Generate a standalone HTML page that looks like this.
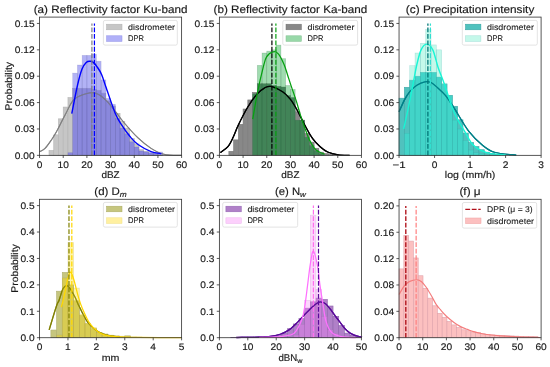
<!DOCTYPE html>
<html><head><meta charset="utf-8"><style>
html,body{margin:0;padding:0;background:#fff;}
svg{display:block;font-family:"Liberation Sans",sans-serif;will-change:transform;}
</style></head><body>
<svg width="550" height="367" viewBox="0 0 550 367" text-rendering="geometricPrecision">
<rect width="550" height="367" fill="#fff"/>
<g style="opacity:0.999">
<g fill="#c6c6c6" stroke="#b4b4b4" stroke-opacity="1" stroke-width="0.6"><rect x="49.02" y="150.51" width="4.73" height="4.84"/><rect x="53.75" y="134.86" width="4.73" height="20.49"/><rect x="58.49" y="118.86" width="4.73" height="36.49"/><rect x="63.22" y="107.07" width="4.74" height="48.28"/><rect x="67.96" y="97.67" width="4.73" height="57.68"/><rect x="72.69" y="88.26" width="4.74" height="67.09"/><rect x="77.43" y="88.26" width="4.73" height="67.09"/><rect x="82.16" y="88.26" width="4.74" height="67.09"/><rect x="86.90" y="88.26" width="4.73" height="67.09"/><rect x="91.63" y="89.40" width="4.74" height="65.95"/><rect x="96.37" y="90.28" width="4.73" height="65.07"/><rect x="101.11" y="93.18" width="4.73" height="62.17"/><rect x="105.84" y="100.83" width="4.73" height="54.52"/><rect x="110.58" y="106.11" width="4.73" height="49.24"/><rect x="115.31" y="113.32" width="4.73" height="42.03"/><rect x="120.05" y="121.41" width="4.73" height="33.94"/><rect x="124.78" y="128.09" width="4.73" height="27.26"/><rect x="129.51" y="138.64" width="4.74" height="16.71"/><rect x="134.25" y="143.92" width="4.74" height="11.43"/><rect x="138.99" y="149.72" width="4.73" height="5.63"/><rect x="143.72" y="151.57" width="4.74" height="3.78"/><rect x="148.46" y="152.98" width="4.73" height="2.37"/><rect x="153.19" y="153.15" width="4.74" height="2.20"/><rect x="157.93" y="154.47" width="4.74" height="0.88"/></g>
<path d="M39.55,151.83 C40.46,151.26 43.02,150.38 45.00,148.40 C46.97,146.42 49.45,142.76 51.39,139.96 C53.32,137.16 54.23,135.93 56.60,131.61 C58.96,127.28 62.63,119.44 65.59,114.02 C68.55,108.60 70.45,102.59 74.35,99.07 C78.26,95.56 85.16,93.77 89.03,92.92 C92.90,92.07 94.63,92.65 97.55,93.97 C100.47,95.29 103.59,97.93 106.55,100.83 C109.51,103.73 112.35,107.69 115.31,111.38 C118.27,115.08 120.52,118.56 124.31,122.99 C128.09,127.42 133.58,133.70 138.04,137.94 C142.50,142.17 146.76,145.69 151.06,148.40 C155.36,151.11 158.75,153.05 163.84,154.21 C168.93,155.36 178.64,155.16 181.60,155.35" fill="none" stroke="#808080" stroke-width="1.05" stroke-linejoin="round"/>
<g fill="#5955ee" fill-opacity="0.55"><rect x="67.96" y="152.71" width="4.73" height="2.64"/><rect x="72.69" y="88.26" width="4.74" height="67.09"/><rect x="77.43" y="88.26" width="4.73" height="67.09"/><rect x="82.16" y="88.26" width="4.74" height="67.09"/><rect x="86.90" y="88.26" width="4.73" height="67.09"/><rect x="91.63" y="89.40" width="4.74" height="65.95"/><rect x="96.37" y="90.28" width="4.73" height="65.07"/><rect x="101.11" y="93.18" width="4.73" height="62.17"/><rect x="105.84" y="100.83" width="4.73" height="54.52"/><rect x="110.58" y="106.11" width="4.73" height="49.24"/><rect x="115.31" y="118.42" width="4.73" height="36.93"/><rect x="120.05" y="128.09" width="4.73" height="27.26"/><rect x="124.78" y="133.81" width="4.73" height="21.54"/><rect x="129.51" y="141.81" width="4.74" height="13.54"/><rect x="134.25" y="147.00" width="4.74" height="8.35"/><rect x="138.99" y="150.95" width="4.73" height="4.40"/><rect x="143.72" y="151.83" width="4.74" height="3.52"/><rect x="148.46" y="152.98" width="4.73" height="2.37"/><rect x="153.19" y="153.15" width="4.74" height="2.20"/><rect x="157.93" y="154.47" width="4.74" height="0.88"/></g>
<g fill="#7373ed" fill-opacity="0.55"><rect x="72.69" y="73.13" width="4.74" height="15.12"/><rect x="77.43" y="65.04" width="4.73" height="23.21"/><rect x="82.16" y="55.37" width="4.74" height="32.89"/><rect x="86.90" y="55.37" width="4.73" height="32.89"/><rect x="91.63" y="54.23" width="4.74" height="35.17"/><rect x="96.37" y="61.26" width="4.73" height="29.02"/><rect x="101.11" y="79.90" width="4.73" height="13.28"/><rect x="105.84" y="98.46" width="4.73" height="2.37"/><rect x="110.58" y="104.35" width="4.73" height="1.76"/><rect x="148.46" y="152.71" width="4.73" height="0.26"/><rect x="153.19" y="152.71" width="4.74" height="0.44"/><rect x="157.93" y="152.01" width="4.74" height="2.46"/></g>
<g fill="none" stroke="#5050a0" stroke-opacity="0.25" stroke-width="0.6"><rect x="67.96" y="152.71" width="4.73" height="2.64"/><rect x="72.69" y="73.13" width="4.74" height="82.22"/><rect x="77.43" y="65.04" width="4.73" height="90.31"/><rect x="82.16" y="55.37" width="4.74" height="99.98"/><rect x="86.90" y="55.37" width="4.73" height="99.98"/><rect x="91.63" y="54.23" width="4.74" height="101.12"/><rect x="96.37" y="61.26" width="4.73" height="94.09"/><rect x="101.11" y="79.90" width="4.73" height="75.45"/><rect x="105.84" y="98.46" width="4.73" height="56.89"/><rect x="110.58" y="104.35" width="4.73" height="51.00"/><rect x="115.31" y="118.42" width="4.73" height="36.93"/><rect x="120.05" y="128.09" width="4.73" height="27.26"/><rect x="124.78" y="133.81" width="4.73" height="21.54"/><rect x="129.51" y="141.81" width="4.74" height="13.54"/><rect x="134.25" y="147.00" width="4.74" height="8.35"/><rect x="138.99" y="150.95" width="4.73" height="4.40"/><rect x="143.72" y="151.83" width="4.74" height="3.52"/><rect x="148.46" y="152.71" width="4.73" height="2.64"/><rect x="153.19" y="152.71" width="4.74" height="2.64"/><rect x="157.93" y="152.01" width="4.74" height="3.34"/></g>
<path d="M39.55,151.83 C40.46,151.26 43.02,150.38 45.00,148.40 C46.97,146.42 49.45,142.76 51.39,139.96 C53.32,137.16 54.23,135.93 56.60,131.61 C58.96,127.28 62.63,119.44 65.59,114.02 C68.55,108.60 70.45,102.59 74.35,99.07 C78.26,95.56 85.16,93.77 89.03,92.92 C92.90,92.07 94.63,92.65 97.55,93.97 C100.47,95.29 103.59,97.93 106.55,100.83 C109.51,103.73 112.35,107.69 115.31,111.38 C118.27,115.08 120.52,118.56 124.31,122.99 C128.09,127.42 133.58,133.70 138.04,137.94 C142.50,142.17 146.76,145.69 151.06,148.40 C155.36,151.11 158.75,153.05 163.84,154.21 C168.93,155.36 178.64,155.16 181.60,155.35" fill="none" stroke="#808080" stroke-opacity="0.8" stroke-width="1.05"/>
<path d="M71.75,113.58 C72.71,108.82 75.85,92.40 77.55,85.00 C79.25,77.60 80.49,72.94 81.93,69.18 C83.37,65.41 84.81,63.72 86.19,62.40 C87.57,61.09 89.03,61.26 90.21,61.26 C91.40,61.26 92.15,61.48 93.29,62.40 C94.44,63.33 95.70,64.79 97.08,66.80 C98.46,68.81 100.12,71.12 101.58,74.45 C103.04,77.78 103.55,80.25 105.84,86.76 C108.13,93.27 112.63,107.07 115.31,113.49 C117.99,119.91 119.41,121.35 121.94,125.28 C124.46,129.20 127.78,133.86 130.46,137.06 C133.15,140.25 134.61,142.03 138.04,144.45 C141.47,146.86 147.19,150.04 151.06,151.57 C154.93,153.09 159.54,153.25 161.24,153.59" fill="none" stroke="#0000ff" stroke-width="1.4" stroke-linejoin="round"/>
<line x1="91.92" y1="155.35" x2="91.92" y2="23.45" stroke="#808080" stroke-width="1.2" stroke-dasharray="4.8 1.68"/>
<line x1="94.43" y1="155.35" x2="94.43" y2="23.45" stroke="#0000ff" stroke-width="1.2" stroke-dasharray="4.8 1.68"/>
<rect x="39.55" y="17.10" width="142.05" height="138.25" fill="none" stroke="#3c3c3c" stroke-width="0.85"/>
<line x1="39.55" y1="155.35" x2="39.55" y2="157.98" stroke="#262626" stroke-width="0.75"/>
<text x="39.55" y="167.80" font-size="9.51" text-anchor="middle" fill="#1a1a1a" stroke="#1a1a1a" stroke-width="0.16" textLength="5.66" lengthAdjust="spacingAndGlyphs">0</text>
<line x1="63.22" y1="155.35" x2="63.22" y2="157.98" stroke="#262626" stroke-width="0.75"/>
<text x="63.22" y="167.80" font-size="9.51" text-anchor="middle" fill="#1a1a1a" stroke="#1a1a1a" stroke-width="0.16" textLength="11.32" lengthAdjust="spacingAndGlyphs">10</text>
<line x1="86.90" y1="155.35" x2="86.90" y2="157.98" stroke="#262626" stroke-width="0.75"/>
<text x="86.90" y="167.80" font-size="9.51" text-anchor="middle" fill="#1a1a1a" stroke="#1a1a1a" stroke-width="0.16" textLength="11.32" lengthAdjust="spacingAndGlyphs">20</text>
<line x1="110.58" y1="155.35" x2="110.58" y2="157.98" stroke="#262626" stroke-width="0.75"/>
<text x="110.58" y="167.80" font-size="9.51" text-anchor="middle" fill="#1a1a1a" stroke="#1a1a1a" stroke-width="0.16" textLength="11.32" lengthAdjust="spacingAndGlyphs">30</text>
<line x1="134.25" y1="155.35" x2="134.25" y2="157.98" stroke="#262626" stroke-width="0.75"/>
<text x="134.25" y="167.80" font-size="9.51" text-anchor="middle" fill="#1a1a1a" stroke="#1a1a1a" stroke-width="0.16" textLength="11.32" lengthAdjust="spacingAndGlyphs">40</text>
<line x1="157.93" y1="155.35" x2="157.93" y2="157.98" stroke="#262626" stroke-width="0.75"/>
<text x="157.93" y="167.80" font-size="9.51" text-anchor="middle" fill="#1a1a1a" stroke="#1a1a1a" stroke-width="0.16" textLength="11.32" lengthAdjust="spacingAndGlyphs">50</text>
<line x1="181.60" y1="155.35" x2="181.60" y2="157.98" stroke="#262626" stroke-width="0.75"/>
<text x="181.60" y="167.80" font-size="9.51" text-anchor="middle" fill="#1a1a1a" stroke="#1a1a1a" stroke-width="0.16" textLength="11.32" lengthAdjust="spacingAndGlyphs">60</text>
<line x1="36.92" y1="155.35" x2="39.55" y2="155.35" stroke="#262626" stroke-width="0.75"/>
<text x="34.59" y="158.59" font-size="9.51" text-anchor="end" fill="#1a1a1a" stroke="#1a1a1a" stroke-width="0.16" textLength="19.82" lengthAdjust="spacingAndGlyphs">0.00</text>
<line x1="36.92" y1="128.97" x2="39.55" y2="128.97" stroke="#262626" stroke-width="0.75"/>
<text x="34.59" y="132.21" font-size="9.51" text-anchor="end" fill="#1a1a1a" stroke="#1a1a1a" stroke-width="0.16" textLength="19.82" lengthAdjust="spacingAndGlyphs">0.03</text>
<line x1="36.92" y1="102.59" x2="39.55" y2="102.59" stroke="#262626" stroke-width="0.75"/>
<text x="34.59" y="105.83" font-size="9.51" text-anchor="end" fill="#1a1a1a" stroke="#1a1a1a" stroke-width="0.16" textLength="19.82" lengthAdjust="spacingAndGlyphs">0.06</text>
<line x1="36.92" y1="76.21" x2="39.55" y2="76.21" stroke="#262626" stroke-width="0.75"/>
<text x="34.59" y="79.45" font-size="9.51" text-anchor="end" fill="#1a1a1a" stroke="#1a1a1a" stroke-width="0.16" textLength="19.82" lengthAdjust="spacingAndGlyphs">0.09</text>
<line x1="36.92" y1="49.83" x2="39.55" y2="49.83" stroke="#262626" stroke-width="0.75"/>
<text x="34.59" y="53.07" font-size="9.51" text-anchor="end" fill="#1a1a1a" stroke="#1a1a1a" stroke-width="0.16" textLength="19.82" lengthAdjust="spacingAndGlyphs">0.12</text>
<line x1="36.92" y1="23.45" x2="39.55" y2="23.45" stroke="#262626" stroke-width="0.75"/>
<text x="34.59" y="26.69" font-size="9.51" text-anchor="end" fill="#1a1a1a" stroke="#1a1a1a" stroke-width="0.16" textLength="19.82" lengthAdjust="spacingAndGlyphs">0.15</text>
<rect x="103.40" y="20.40" width="73.90" height="24.70" rx="1.6" fill="#fff" fill-opacity="0.8" stroke="#d9d9d9" stroke-width="0.75"/>
<rect x="106.60" y="24.20" width="15.4" height="5.6" fill="#c6c6c6" fill-opacity="1" stroke="#b0b0b0" stroke-width="0.5"/>
<text x="128.10" y="29.81" font-size="8.22" text-anchor="start" fill="#1a1a1a" stroke="#1a1a1a" stroke-width="0.10" textLength="46.96" lengthAdjust="spacingAndGlyphs">disdrometer</text>
<rect x="106.60" y="35.80" width="15.4" height="5.6" fill="#b0b0f8" fill-opacity="1" stroke="#9090e8" stroke-width="0.5"/>
<text x="128.10" y="41.41" font-size="8.22" text-anchor="start" fill="#1a1a1a" stroke="#1a1a1a" stroke-width="0.10" textLength="15.92" lengthAdjust="spacingAndGlyphs">DPR</text>
<g fill="#888888" stroke="#7a7a7a" stroke-opacity="1" stroke-width="0.6"><rect x="228.87" y="151.31" width="4.74" height="4.04"/><rect x="233.61" y="139.87" width="4.73" height="15.48"/><rect x="238.34" y="124.31" width="4.74" height="31.04"/><rect x="243.08" y="109.01" width="4.73" height="46.34"/><rect x="247.81" y="99.95" width="4.74" height="55.40"/><rect x="252.55" y="92.39" width="4.74" height="62.96"/><rect x="257.28" y="83.68" width="4.73" height="71.67"/><rect x="262.01" y="83.68" width="4.74" height="71.67"/><rect x="266.75" y="83.68" width="4.74" height="71.67"/><rect x="271.49" y="85.44" width="4.74" height="69.91"/><rect x="276.22" y="86.32" width="4.74" height="69.03"/><rect x="280.96" y="87.03" width="4.74" height="68.32"/><rect x="285.69" y="95.56" width="4.73" height="59.79"/><rect x="290.43" y="97.49" width="4.74" height="57.86"/><rect x="295.16" y="111.74" width="4.74" height="43.61"/><rect x="299.90" y="120.18" width="4.73" height="35.17"/><rect x="304.63" y="133.45" width="4.74" height="21.90"/><rect x="309.37" y="142.16" width="4.74" height="13.19"/><rect x="314.10" y="148.23" width="4.74" height="7.12"/><rect x="318.84" y="152.18" width="4.74" height="3.17"/><rect x="323.57" y="153.59" width="4.74" height="1.76"/><rect x="328.31" y="154.47" width="4.74" height="0.88"/></g>
<path d="M220.35,152.54 C221.61,151.54 225.79,149.09 227.92,146.56 C230.05,144.02 231.40,140.91 233.13,137.32 C234.87,133.73 235.89,130.07 238.34,125.01 C240.79,119.96 244.65,112.19 247.81,106.99 C250.97,101.78 254.52,96.95 257.28,93.80 C260.04,90.65 262.10,89.31 264.38,88.08 C266.67,86.85 267.89,85.75 270.99,86.41 C274.08,87.07 279.74,89.93 282.94,92.04 C286.15,94.15 287.99,96.29 290.24,99.07 C292.48,101.86 293.92,104.28 296.41,108.75 C298.91,113.22 302.49,120.91 305.20,125.89 C307.91,130.88 310.19,135.17 312.68,138.64 C315.17,142.12 317.67,144.50 320.16,146.73 C322.65,148.96 324.65,150.66 327.64,152.01 C330.64,153.36 334.47,154.27 338.13,154.82 C341.79,155.38 347.70,155.26 349.61,155.35" fill="none" stroke="#000000" stroke-width="1.25" stroke-linejoin="round"/>
<g fill="#098131" fill-opacity="0.55"><rect x="252.55" y="93.80" width="4.74" height="61.55"/><rect x="257.28" y="83.68" width="4.73" height="71.67"/><rect x="262.01" y="83.68" width="4.74" height="71.67"/><rect x="266.75" y="83.68" width="4.74" height="71.67"/><rect x="271.49" y="85.44" width="4.74" height="69.91"/><rect x="276.22" y="86.32" width="4.74" height="69.03"/><rect x="280.96" y="87.03" width="4.74" height="68.32"/><rect x="285.69" y="95.56" width="4.73" height="59.79"/><rect x="290.43" y="97.49" width="4.74" height="57.86"/><rect x="295.16" y="120.18" width="4.74" height="35.17"/><rect x="299.90" y="120.18" width="4.73" height="35.17"/><rect x="304.63" y="137.24" width="4.74" height="18.11"/><rect x="309.37" y="145.68" width="4.74" height="9.67"/><rect x="314.10" y="150.69" width="4.74" height="4.66"/><rect x="318.84" y="153.59" width="4.74" height="1.76"/></g>
<g fill="#52bf6f" fill-opacity="0.55"><rect x="257.28" y="65.31" width="4.73" height="18.38"/><rect x="262.01" y="53.00" width="4.74" height="30.69"/><rect x="266.75" y="51.15" width="4.74" height="32.54"/><rect x="271.49" y="49.83" width="4.74" height="35.61"/><rect x="276.22" y="45.08" width="4.74" height="41.24"/><rect x="280.96" y="58.62" width="4.74" height="28.40"/><rect x="285.69" y="85.44" width="4.73" height="10.11"/><rect x="290.43" y="89.40" width="4.74" height="8.09"/></g>
<g fill="none" stroke="#2a6040" stroke-opacity="0.25" stroke-width="0.6"><rect x="252.55" y="93.80" width="4.74" height="61.55"/><rect x="257.28" y="65.31" width="4.73" height="90.04"/><rect x="262.01" y="53.00" width="4.74" height="102.35"/><rect x="266.75" y="51.15" width="4.74" height="104.20"/><rect x="271.49" y="49.83" width="4.74" height="105.52"/><rect x="276.22" y="45.08" width="4.74" height="110.27"/><rect x="280.96" y="58.62" width="4.74" height="96.73"/><rect x="285.69" y="85.44" width="4.73" height="69.91"/><rect x="290.43" y="89.40" width="4.74" height="65.95"/><rect x="295.16" y="120.18" width="4.74" height="35.17"/><rect x="299.90" y="120.18" width="4.73" height="35.17"/><rect x="304.63" y="137.24" width="4.74" height="18.11"/><rect x="309.37" y="145.68" width="4.74" height="9.67"/><rect x="314.10" y="150.69" width="4.74" height="4.66"/><rect x="318.84" y="153.59" width="4.74" height="1.76"/></g>
<path d="M220.35,152.54 C221.61,151.54 225.79,149.09 227.92,146.56 C230.05,144.02 231.40,140.91 233.13,137.32 C234.87,133.73 235.89,130.07 238.34,125.01 C240.79,119.96 244.65,112.19 247.81,106.99 C250.97,101.78 254.52,96.95 257.28,93.80 C260.04,90.65 262.10,89.31 264.38,88.08 C266.67,86.85 267.89,85.75 270.99,86.41 C274.08,87.07 279.74,89.93 282.94,92.04 C286.15,94.15 287.99,96.29 290.24,99.07 C292.48,101.86 293.92,104.28 296.41,108.75 C298.91,113.22 302.49,120.91 305.20,125.89 C307.91,130.88 310.19,135.17 312.68,138.64 C315.17,142.12 317.67,144.50 320.16,146.73 C322.65,148.96 324.65,150.66 327.64,152.01 C330.64,153.36 334.47,154.27 338.13,154.82 C341.79,155.38 347.70,155.26 349.61,155.35" fill="none" stroke="#000000" stroke-opacity="1" stroke-width="1.25"/>
<path d="M252.73,119.21 C253.53,114.74 255.77,101.02 257.52,92.39 C259.26,83.76 261.69,73.34 263.20,67.42 C264.71,61.50 264.92,59.46 266.58,56.86 C268.25,54.27 271.17,52.32 273.17,51.85 C275.16,51.38 276.75,51.96 278.56,54.05 C280.38,56.15 282.59,61.07 284.06,64.43 C285.52,67.78 286.17,70.61 287.35,74.19 C288.53,77.76 289.62,81.35 291.14,85.88 C292.65,90.41 294.88,96.52 296.41,101.36 C297.95,106.20 298.90,110.30 300.37,114.90 C301.83,119.50 303.64,124.72 305.20,128.97 C306.75,133.22 307.95,136.96 309.70,140.40 C311.44,143.85 313.19,147.32 315.69,149.63 C318.18,151.95 323.16,153.52 324.66,154.29" fill="none" stroke="#06a010" stroke-width="1.25" stroke-linejoin="round"/>
<line x1="271.91" y1="155.35" x2="271.91" y2="23.45" stroke="#000000" stroke-width="1.2" stroke-dasharray="4.8 1.68"/>
<line x1="275.89" y1="155.35" x2="275.89" y2="23.45" stroke="#06a010" stroke-width="1.2" stroke-dasharray="4.8 1.68"/>
<rect x="219.40" y="17.10" width="142.05" height="138.25" fill="none" stroke="#3c3c3c" stroke-width="0.85"/>
<line x1="219.40" y1="155.35" x2="219.40" y2="157.98" stroke="#262626" stroke-width="0.75"/>
<text x="219.40" y="167.80" font-size="9.51" text-anchor="middle" fill="#1a1a1a" stroke="#1a1a1a" stroke-width="0.16" textLength="5.66" lengthAdjust="spacingAndGlyphs">0</text>
<line x1="243.08" y1="155.35" x2="243.08" y2="157.98" stroke="#262626" stroke-width="0.75"/>
<text x="243.08" y="167.80" font-size="9.51" text-anchor="middle" fill="#1a1a1a" stroke="#1a1a1a" stroke-width="0.16" textLength="11.32" lengthAdjust="spacingAndGlyphs">10</text>
<line x1="266.75" y1="155.35" x2="266.75" y2="157.98" stroke="#262626" stroke-width="0.75"/>
<text x="266.75" y="167.80" font-size="9.51" text-anchor="middle" fill="#1a1a1a" stroke="#1a1a1a" stroke-width="0.16" textLength="11.32" lengthAdjust="spacingAndGlyphs">20</text>
<line x1="290.43" y1="155.35" x2="290.43" y2="157.98" stroke="#262626" stroke-width="0.75"/>
<text x="290.43" y="167.80" font-size="9.51" text-anchor="middle" fill="#1a1a1a" stroke="#1a1a1a" stroke-width="0.16" textLength="11.32" lengthAdjust="spacingAndGlyphs">30</text>
<line x1="314.10" y1="155.35" x2="314.10" y2="157.98" stroke="#262626" stroke-width="0.75"/>
<text x="314.10" y="167.80" font-size="9.51" text-anchor="middle" fill="#1a1a1a" stroke="#1a1a1a" stroke-width="0.16" textLength="11.32" lengthAdjust="spacingAndGlyphs">40</text>
<line x1="337.78" y1="155.35" x2="337.78" y2="157.98" stroke="#262626" stroke-width="0.75"/>
<text x="337.78" y="167.80" font-size="9.51" text-anchor="middle" fill="#1a1a1a" stroke="#1a1a1a" stroke-width="0.16" textLength="11.32" lengthAdjust="spacingAndGlyphs">50</text>
<line x1="361.45" y1="155.35" x2="361.45" y2="157.98" stroke="#262626" stroke-width="0.75"/>
<text x="361.45" y="167.80" font-size="9.51" text-anchor="middle" fill="#1a1a1a" stroke="#1a1a1a" stroke-width="0.16" textLength="11.32" lengthAdjust="spacingAndGlyphs">60</text>
<line x1="216.77" y1="155.35" x2="219.40" y2="155.35" stroke="#262626" stroke-width="0.75"/>
<text x="214.44" y="158.59" font-size="9.51" text-anchor="end" fill="#1a1a1a" stroke="#1a1a1a" stroke-width="0.16" textLength="19.82" lengthAdjust="spacingAndGlyphs">0.00</text>
<line x1="216.77" y1="128.97" x2="219.40" y2="128.97" stroke="#262626" stroke-width="0.75"/>
<text x="214.44" y="132.21" font-size="9.51" text-anchor="end" fill="#1a1a1a" stroke="#1a1a1a" stroke-width="0.16" textLength="19.82" lengthAdjust="spacingAndGlyphs">0.03</text>
<line x1="216.77" y1="102.59" x2="219.40" y2="102.59" stroke="#262626" stroke-width="0.75"/>
<text x="214.44" y="105.83" font-size="9.51" text-anchor="end" fill="#1a1a1a" stroke="#1a1a1a" stroke-width="0.16" textLength="19.82" lengthAdjust="spacingAndGlyphs">0.06</text>
<line x1="216.77" y1="76.21" x2="219.40" y2="76.21" stroke="#262626" stroke-width="0.75"/>
<text x="214.44" y="79.45" font-size="9.51" text-anchor="end" fill="#1a1a1a" stroke="#1a1a1a" stroke-width="0.16" textLength="19.82" lengthAdjust="spacingAndGlyphs">0.09</text>
<line x1="216.77" y1="49.83" x2="219.40" y2="49.83" stroke="#262626" stroke-width="0.75"/>
<text x="214.44" y="53.07" font-size="9.51" text-anchor="end" fill="#1a1a1a" stroke="#1a1a1a" stroke-width="0.16" textLength="19.82" lengthAdjust="spacingAndGlyphs">0.12</text>
<line x1="216.77" y1="23.45" x2="219.40" y2="23.45" stroke="#262626" stroke-width="0.75"/>
<text x="214.44" y="26.69" font-size="9.51" text-anchor="end" fill="#1a1a1a" stroke="#1a1a1a" stroke-width="0.16" textLength="19.82" lengthAdjust="spacingAndGlyphs">0.15</text>
<rect x="282.80" y="20.40" width="74.80" height="24.70" rx="1.6" fill="#fff" fill-opacity="0.8" stroke="#d9d9d9" stroke-width="0.75"/>
<rect x="286.00" y="24.20" width="15.4" height="5.6" fill="#888888" fill-opacity="1" stroke="#707070" stroke-width="0.5"/>
<text x="307.50" y="29.81" font-size="8.22" text-anchor="start" fill="#1a1a1a" stroke="#1a1a1a" stroke-width="0.10" textLength="46.96" lengthAdjust="spacingAndGlyphs">disdrometer</text>
<rect x="286.00" y="35.80" width="15.4" height="5.6" fill="#98d8a8" fill-opacity="1" stroke="#80c090" stroke-width="0.5"/>
<text x="307.50" y="41.41" font-size="8.22" text-anchor="start" fill="#1a1a1a" stroke="#1a1a1a" stroke-width="0.10" textLength="15.92" lengthAdjust="spacingAndGlyphs">DPR</text>
<g fill="#50c2be" stroke="#40a8a8" stroke-opacity="1" stroke-width="0.6"><rect x="399.05" y="98.19" width="5.33" height="57.16"/><rect x="404.38" y="87.29" width="5.33" height="68.06"/><rect x="409.70" y="80.17" width="5.33" height="75.18"/><rect x="415.03" y="76.21" width="5.33" height="79.14"/><rect x="420.36" y="72.34" width="5.33" height="83.01"/><rect x="425.68" y="72.34" width="5.33" height="83.01"/><rect x="431.01" y="72.34" width="5.33" height="83.01"/><rect x="436.34" y="77.09" width="5.33" height="78.26"/><rect x="441.67" y="84.12" width="5.33" height="71.23"/><rect x="446.99" y="95.56" width="5.33" height="59.79"/><rect x="452.32" y="106.28" width="5.33" height="49.07"/><rect x="457.65" y="119.82" width="5.33" height="35.53"/><rect x="462.97" y="133.10" width="5.33" height="22.25"/><rect x="468.30" y="142.42" width="5.33" height="12.93"/><rect x="473.63" y="146.56" width="5.33" height="8.79"/><rect x="478.95" y="149.72" width="5.33" height="5.63"/><rect x="484.28" y="152.18" width="5.33" height="3.17"/><rect x="489.61" y="153.59" width="5.33" height="1.76"/><rect x="494.93" y="154.47" width="5.33" height="0.88"/></g>
<path d="M399.05,111.82 C399.98,109.79 402.80,103.00 404.63,99.60 C406.45,96.20 407.95,93.83 409.99,91.42 C412.02,89.02 414.36,86.78 416.84,85.18 C419.33,83.58 422.53,82.28 424.90,81.84 C427.28,81.40 428.93,81.52 431.08,82.54 C433.24,83.57 435.56,85.97 437.83,87.99 C440.10,90.02 442.45,92.02 444.72,94.68 C446.99,97.33 449.73,101.42 451.47,103.91 C453.21,106.40 452.30,105.08 455.16,109.62 C458.02,114.17 464.14,125.28 468.65,131.17 C473.16,137.06 477.92,141.46 482.22,144.97 C486.52,148.49 488.77,150.57 494.44,152.27 C500.11,153.97 512.61,154.69 516.24,155.17" fill="none" stroke="#008088" stroke-width="1.25" stroke-linejoin="round"/>
<g fill="#37e3d0" fill-opacity="0.55"><rect x="404.38" y="133.37" width="5.33" height="21.98"/><rect x="409.70" y="80.17" width="5.33" height="75.18"/><rect x="415.03" y="76.21" width="5.33" height="79.14"/><rect x="420.36" y="72.34" width="5.33" height="83.01"/><rect x="425.68" y="72.34" width="5.33" height="83.01"/><rect x="431.01" y="72.34" width="5.33" height="83.01"/><rect x="436.34" y="77.09" width="5.33" height="78.26"/><rect x="441.67" y="84.12" width="5.33" height="71.23"/><rect x="446.99" y="95.56" width="5.33" height="59.79"/><rect x="452.32" y="120.18" width="5.33" height="35.17"/><rect x="457.65" y="128.97" width="5.33" height="26.38"/><rect x="462.97" y="140.58" width="5.33" height="14.77"/><rect x="468.30" y="150.07" width="5.33" height="5.28"/><rect x="473.63" y="152.71" width="5.33" height="2.64"/><rect x="478.95" y="153.59" width="5.33" height="1.76"/></g>
<g fill="#94f2d9" fill-opacity="0.55"><rect x="409.70" y="65.66" width="5.33" height="14.51"/><rect x="415.03" y="53.00" width="5.33" height="23.21"/><rect x="420.36" y="43.32" width="5.33" height="29.02"/><rect x="425.68" y="29.61" width="5.33" height="42.74"/><rect x="431.01" y="44.91" width="5.33" height="27.44"/><rect x="436.34" y="49.83" width="5.33" height="27.26"/><rect x="441.67" y="83.24" width="5.33" height="0.88"/></g>
<g fill="none" stroke="#30a0a0" stroke-opacity="0.25" stroke-width="0.6"><rect x="404.38" y="133.37" width="5.33" height="21.98"/><rect x="409.70" y="65.66" width="5.33" height="89.69"/><rect x="415.03" y="53.00" width="5.33" height="102.35"/><rect x="420.36" y="43.32" width="5.33" height="112.03"/><rect x="425.68" y="29.61" width="5.33" height="125.74"/><rect x="431.01" y="44.91" width="5.33" height="110.44"/><rect x="436.34" y="49.83" width="5.33" height="105.52"/><rect x="441.67" y="83.24" width="5.33" height="72.11"/><rect x="446.99" y="95.56" width="5.33" height="59.79"/><rect x="452.32" y="120.18" width="5.33" height="35.17"/><rect x="457.65" y="128.97" width="5.33" height="26.38"/><rect x="462.97" y="140.58" width="5.33" height="14.77"/><rect x="468.30" y="150.07" width="5.33" height="5.28"/><rect x="473.63" y="152.71" width="5.33" height="2.64"/><rect x="478.95" y="153.59" width="5.33" height="1.76"/></g>
<path d="M399.05,111.82 C399.98,109.79 402.80,103.00 404.63,99.60 C406.45,96.20 407.95,93.83 409.99,91.42 C412.02,89.02 414.36,86.78 416.84,85.18 C419.33,83.58 422.53,82.28 424.90,81.84 C427.28,81.40 428.93,81.52 431.08,82.54 C433.24,83.57 435.56,85.97 437.83,87.99 C440.10,90.02 442.45,92.02 444.72,94.68 C446.99,97.33 449.73,101.42 451.47,103.91 C453.21,106.40 452.30,105.08 455.16,109.62 C458.02,114.17 464.14,125.28 468.65,131.17 C473.16,137.06 477.92,141.46 482.22,144.97 C486.52,148.49 488.77,150.57 494.44,152.27 C500.11,153.97 512.61,154.69 516.24,155.17" fill="none" stroke="#008088" stroke-opacity="1" stroke-width="1.25"/>
<path d="M403.67,128.97 C404.38,125.75 406.45,116.66 407.93,109.62 C409.41,102.59 411.07,94.24 412.54,86.76 C414.02,79.29 415.39,70.93 416.81,64.78 C418.23,58.62 419.41,53.27 421.07,49.83 C422.72,46.39 424.80,44.11 426.75,44.11 C428.70,44.11 430.89,45.95 432.79,49.83 C434.68,53.71 436.34,62.14 438.11,67.42 C439.89,72.69 441.67,76.50 443.44,81.49 C445.22,86.47 446.76,91.64 448.77,97.31 C450.78,102.99 452.97,110.01 455.51,115.52 C458.06,121.03 461.26,125.63 464.04,130.38 C466.82,135.13 469.48,140.72 472.21,144.01 C474.93,147.29 477.24,148.48 480.37,150.07 C483.51,151.67 486.83,152.79 491.03,153.59 C495.23,154.40 503.16,154.69 505.59,154.91" fill="none" stroke="#18f5d5" stroke-width="1.4" stroke-linejoin="round"/>
<line x1="427.89" y1="155.35" x2="427.89" y2="23.45" stroke="#007878" stroke-width="1.3" stroke-dasharray="4.8 1.68"/>
<line x1="430.41" y1="155.35" x2="430.41" y2="23.45" stroke="#30e0d0" stroke-width="1.2" stroke-dasharray="4.8 1.68"/>
<rect x="399.05" y="17.10" width="142.05" height="138.25" fill="none" stroke="#3c3c3c" stroke-width="0.85"/>
<line x1="399.05" y1="155.35" x2="399.05" y2="157.98" stroke="#262626" stroke-width="0.75"/>
<text x="399.05" y="167.80" font-size="9.51" text-anchor="middle" fill="#1a1a1a" stroke="#1a1a1a" stroke-width="0.16" textLength="13.12" lengthAdjust="spacingAndGlyphs">−1</text>
<line x1="434.56" y1="155.35" x2="434.56" y2="157.98" stroke="#262626" stroke-width="0.75"/>
<text x="434.56" y="167.80" font-size="9.51" text-anchor="middle" fill="#1a1a1a" stroke="#1a1a1a" stroke-width="0.16" textLength="5.66" lengthAdjust="spacingAndGlyphs">0</text>
<line x1="470.08" y1="155.35" x2="470.08" y2="157.98" stroke="#262626" stroke-width="0.75"/>
<text x="470.08" y="167.80" font-size="9.51" text-anchor="middle" fill="#1a1a1a" stroke="#1a1a1a" stroke-width="0.16" textLength="5.66" lengthAdjust="spacingAndGlyphs">1</text>
<line x1="505.59" y1="155.35" x2="505.59" y2="157.98" stroke="#262626" stroke-width="0.75"/>
<text x="505.59" y="167.80" font-size="9.51" text-anchor="middle" fill="#1a1a1a" stroke="#1a1a1a" stroke-width="0.16" textLength="5.66" lengthAdjust="spacingAndGlyphs">2</text>
<line x1="541.10" y1="155.35" x2="541.10" y2="157.98" stroke="#262626" stroke-width="0.75"/>
<text x="541.10" y="167.80" font-size="9.51" text-anchor="middle" fill="#1a1a1a" stroke="#1a1a1a" stroke-width="0.16" textLength="5.66" lengthAdjust="spacingAndGlyphs">3</text>
<line x1="396.42" y1="155.35" x2="399.05" y2="155.35" stroke="#262626" stroke-width="0.75"/>
<text x="394.09" y="158.59" font-size="9.51" text-anchor="end" fill="#1a1a1a" stroke="#1a1a1a" stroke-width="0.16" textLength="19.82" lengthAdjust="spacingAndGlyphs">0.00</text>
<line x1="396.42" y1="128.97" x2="399.05" y2="128.97" stroke="#262626" stroke-width="0.75"/>
<text x="394.09" y="132.21" font-size="9.51" text-anchor="end" fill="#1a1a1a" stroke="#1a1a1a" stroke-width="0.16" textLength="19.82" lengthAdjust="spacingAndGlyphs">0.03</text>
<line x1="396.42" y1="102.59" x2="399.05" y2="102.59" stroke="#262626" stroke-width="0.75"/>
<text x="394.09" y="105.83" font-size="9.51" text-anchor="end" fill="#1a1a1a" stroke="#1a1a1a" stroke-width="0.16" textLength="19.82" lengthAdjust="spacingAndGlyphs">0.06</text>
<line x1="396.42" y1="76.21" x2="399.05" y2="76.21" stroke="#262626" stroke-width="0.75"/>
<text x="394.09" y="79.45" font-size="9.51" text-anchor="end" fill="#1a1a1a" stroke="#1a1a1a" stroke-width="0.16" textLength="19.82" lengthAdjust="spacingAndGlyphs">0.09</text>
<line x1="396.42" y1="49.83" x2="399.05" y2="49.83" stroke="#262626" stroke-width="0.75"/>
<text x="394.09" y="53.07" font-size="9.51" text-anchor="end" fill="#1a1a1a" stroke="#1a1a1a" stroke-width="0.16" textLength="19.82" lengthAdjust="spacingAndGlyphs">0.12</text>
<line x1="396.42" y1="23.45" x2="399.05" y2="23.45" stroke="#262626" stroke-width="0.75"/>
<text x="394.09" y="26.69" font-size="9.51" text-anchor="end" fill="#1a1a1a" stroke="#1a1a1a" stroke-width="0.16" textLength="19.82" lengthAdjust="spacingAndGlyphs">0.15</text>
<rect x="462.30" y="20.40" width="75.00" height="24.70" rx="1.6" fill="#fff" fill-opacity="0.8" stroke="#d9d9d9" stroke-width="0.75"/>
<rect x="465.50" y="24.20" width="15.4" height="5.6" fill="#50c2be" fill-opacity="1" stroke="#30a0a0" stroke-width="0.5"/>
<text x="487.00" y="29.81" font-size="8.22" text-anchor="start" fill="#1a1a1a" stroke="#1a1a1a" stroke-width="0.10" textLength="46.96" lengthAdjust="spacingAndGlyphs">disdrometer</text>
<rect x="465.50" y="35.80" width="15.4" height="5.6" fill="#c4f8ea" fill-opacity="1" stroke="#a0e0d8" stroke-width="0.5"/>
<text x="487.00" y="41.41" font-size="8.22" text-anchor="start" fill="#1a1a1a" stroke="#1a1a1a" stroke-width="0.10" textLength="15.92" lengthAdjust="spacingAndGlyphs">DPR</text>
<g fill="#c6c67e" stroke="#b0b070" stroke-opacity="1" stroke-width="0.6"><rect x="50.91" y="330.04" width="5.68" height="7.66"/><rect x="56.60" y="291.20" width="5.68" height="46.50"/><rect x="62.28" y="272.44" width="5.68" height="65.26"/><rect x="67.96" y="284.86" width="5.68" height="52.84"/><rect x="73.64" y="300.71" width="5.68" height="36.99"/><rect x="79.32" y="315.24" width="5.68" height="22.46"/><rect x="85.01" y="323.70" width="5.68" height="14.00"/><rect x="90.69" y="328.45" width="5.68" height="9.25"/><rect x="96.37" y="332.42" width="5.68" height="5.28"/><rect x="102.05" y="334.27" width="5.68" height="3.43"/><rect x="107.73" y="335.72" width="5.68" height="1.98"/><rect x="113.42" y="336.11" width="5.68" height="1.59"/><rect x="119.10" y="336.64" width="5.68" height="1.06"/><rect x="124.78" y="335.85" width="5.68" height="1.85"/><rect x="130.46" y="337.17" width="5.68" height="0.53"/><rect x="136.14" y="337.17" width="5.68" height="0.53"/><rect x="141.83" y="337.44" width="5.68" height="0.26"/></g>
<path d="M49.12,329.91 C50.34,325.97 54.74,311.21 56.40,306.26 C58.06,301.31 58.00,303.09 59.10,300.18 C60.19,297.28 61.72,291.24 62.99,288.82 C64.25,286.40 65.52,285.74 66.68,285.65 C67.85,285.56 68.53,286.27 69.98,288.29 C71.42,290.32 73.74,294.64 75.35,297.81 C76.95,300.98 77.36,303.00 79.61,307.32 C81.86,311.63 85.24,319.38 88.84,323.70 C92.44,328.01 96.01,330.96 101.20,333.21 C106.38,335.45 116.83,336.51 119.95,337.17" fill="none" stroke="#808000" stroke-width="1.25" stroke-linejoin="round"/>
<g fill="#e7d12e" fill-opacity="0.55"><rect x="56.60" y="335.06" width="5.68" height="2.64"/><rect x="62.28" y="277.99" width="5.68" height="59.71"/><rect x="67.96" y="284.86" width="5.68" height="52.84"/><rect x="73.64" y="300.71" width="5.68" height="36.99"/><rect x="79.32" y="315.24" width="5.68" height="22.46"/><rect x="85.01" y="323.70" width="5.68" height="14.00"/><rect x="90.69" y="328.45" width="5.68" height="9.25"/><rect x="96.37" y="332.42" width="5.68" height="5.28"/><rect x="102.05" y="334.27" width="5.68" height="3.43"/><rect x="107.73" y="335.72" width="5.68" height="1.98"/><rect x="113.42" y="336.11" width="5.68" height="1.59"/><rect x="119.10" y="336.64" width="5.68" height="1.06"/><rect x="124.78" y="336.64" width="5.68" height="1.06"/><rect x="130.46" y="337.17" width="5.68" height="0.53"/><rect x="136.14" y="337.17" width="5.68" height="0.53"/></g>
<g fill="#ffeb61" fill-opacity="0.55"><rect x="67.96" y="242.59" width="5.68" height="42.27"/><rect x="73.64" y="288.03" width="5.68" height="12.68"/><rect x="79.32" y="314.00" width="5.68" height="1.24"/><rect x="85.01" y="323.17" width="5.68" height="0.53"/><rect x="90.69" y="327.50" width="5.68" height="0.95"/><rect x="102.05" y="333.74" width="5.68" height="0.53"/><rect x="107.73" y="335.06" width="5.68" height="0.66"/><rect x="113.42" y="335.59" width="5.68" height="0.53"/><rect x="119.10" y="336.11" width="5.68" height="0.53"/><rect x="130.46" y="336.91" width="5.68" height="0.26"/></g>
<g fill="none" stroke="#a09040" stroke-opacity="0.25" stroke-width="0.6"><rect x="56.60" y="335.06" width="5.68" height="2.64"/><rect x="62.28" y="277.99" width="5.68" height="59.71"/><rect x="67.96" y="242.59" width="5.68" height="95.11"/><rect x="73.64" y="288.03" width="5.68" height="49.67"/><rect x="79.32" y="314.00" width="5.68" height="23.70"/><rect x="85.01" y="323.17" width="5.68" height="14.53"/><rect x="90.69" y="327.50" width="5.68" height="10.20"/><rect x="96.37" y="332.42" width="5.68" height="5.28"/><rect x="102.05" y="333.74" width="5.68" height="3.96"/><rect x="107.73" y="335.06" width="5.68" height="2.64"/><rect x="113.42" y="335.59" width="5.68" height="2.11"/><rect x="119.10" y="336.11" width="5.68" height="1.59"/><rect x="124.78" y="336.64" width="5.68" height="1.06"/><rect x="130.46" y="336.91" width="5.68" height="0.79"/><rect x="136.14" y="337.17" width="5.68" height="0.53"/></g>
<path d="M49.12,329.91 C50.34,325.97 54.74,311.21 56.40,306.26 C58.06,301.31 58.00,303.09 59.10,300.18 C60.19,297.28 61.72,291.24 62.99,288.82 C64.25,286.40 65.52,285.74 66.68,285.65 C67.85,285.56 68.53,286.27 69.98,288.29 C71.42,290.32 73.74,294.64 75.35,297.81 C76.95,300.98 77.36,303.00 79.61,307.32 C81.86,311.63 85.24,319.38 88.84,323.70 C92.44,328.01 96.01,330.96 101.20,333.21 C106.38,335.45 116.83,336.51 119.95,337.17" fill="none" stroke="#808000" stroke-opacity="0.7" stroke-width="1.25"/>
<path d="M61.28,307.05 C61.62,305.86 62.49,303.18 63.27,299.92 C64.05,296.66 65.14,291.33 65.97,287.50 C66.80,283.67 67.49,279.49 68.24,276.93 C69.00,274.38 69.62,271.83 70.52,272.18 C71.42,272.53 72.29,274.78 73.64,279.05 C75.00,283.32 77.17,292.87 78.64,297.81 C80.11,302.74 80.57,304.32 82.45,308.64 C84.33,312.95 87.43,319.94 89.92,323.70 C92.41,327.46 94.90,329.31 97.39,331.20 C99.89,333.09 101.13,334.11 104.89,335.06 C108.65,336.01 114.27,336.51 119.95,336.91 C125.63,337.30 128.71,337.32 138.99,337.44 C149.26,337.55 174.50,337.59 181.60,337.62" fill="none" stroke="#ffd700" stroke-width="1.25" stroke-linejoin="round"/>
<line x1="68.98" y1="337.70" x2="68.98" y2="205.60" stroke="#808000" stroke-width="1.2" stroke-dasharray="4.8 1.68"/>
<line x1="71.82" y1="337.70" x2="71.82" y2="205.60" stroke="#ffd700" stroke-width="1.2" stroke-dasharray="4.8 1.68"/>
<rect x="39.55" y="199.30" width="142.05" height="138.40" fill="none" stroke="#3c3c3c" stroke-width="0.85"/>
<line x1="39.55" y1="337.70" x2="39.55" y2="340.33" stroke="#262626" stroke-width="0.75"/>
<text x="39.55" y="350.15" font-size="9.51" text-anchor="middle" fill="#1a1a1a" stroke="#1a1a1a" stroke-width="0.16" textLength="5.66" lengthAdjust="spacingAndGlyphs">0</text>
<line x1="67.96" y1="337.70" x2="67.96" y2="340.33" stroke="#262626" stroke-width="0.75"/>
<text x="67.96" y="350.15" font-size="9.51" text-anchor="middle" fill="#1a1a1a" stroke="#1a1a1a" stroke-width="0.16" textLength="5.66" lengthAdjust="spacingAndGlyphs">1</text>
<line x1="96.37" y1="337.70" x2="96.37" y2="340.33" stroke="#262626" stroke-width="0.75"/>
<text x="96.37" y="350.15" font-size="9.51" text-anchor="middle" fill="#1a1a1a" stroke="#1a1a1a" stroke-width="0.16" textLength="5.66" lengthAdjust="spacingAndGlyphs">2</text>
<line x1="124.78" y1="337.70" x2="124.78" y2="340.33" stroke="#262626" stroke-width="0.75"/>
<text x="124.78" y="350.15" font-size="9.51" text-anchor="middle" fill="#1a1a1a" stroke="#1a1a1a" stroke-width="0.16" textLength="5.66" lengthAdjust="spacingAndGlyphs">3</text>
<line x1="153.19" y1="337.70" x2="153.19" y2="340.33" stroke="#262626" stroke-width="0.75"/>
<text x="153.19" y="350.15" font-size="9.51" text-anchor="middle" fill="#1a1a1a" stroke="#1a1a1a" stroke-width="0.16" textLength="5.66" lengthAdjust="spacingAndGlyphs">4</text>
<line x1="181.60" y1="337.70" x2="181.60" y2="340.33" stroke="#262626" stroke-width="0.75"/>
<text x="181.60" y="350.15" font-size="9.51" text-anchor="middle" fill="#1a1a1a" stroke="#1a1a1a" stroke-width="0.16" textLength="5.66" lengthAdjust="spacingAndGlyphs">5</text>
<line x1="36.92" y1="337.70" x2="39.55" y2="337.70" stroke="#262626" stroke-width="0.75"/>
<text x="34.59" y="340.94" font-size="9.51" text-anchor="end" fill="#1a1a1a" stroke="#1a1a1a" stroke-width="0.16" textLength="14.15" lengthAdjust="spacingAndGlyphs">0.0</text>
<line x1="36.92" y1="311.28" x2="39.55" y2="311.28" stroke="#262626" stroke-width="0.75"/>
<text x="34.59" y="314.52" font-size="9.51" text-anchor="end" fill="#1a1a1a" stroke="#1a1a1a" stroke-width="0.16" textLength="14.15" lengthAdjust="spacingAndGlyphs">0.1</text>
<line x1="36.92" y1="284.86" x2="39.55" y2="284.86" stroke="#262626" stroke-width="0.75"/>
<text x="34.59" y="288.10" font-size="9.51" text-anchor="end" fill="#1a1a1a" stroke="#1a1a1a" stroke-width="0.16" textLength="14.15" lengthAdjust="spacingAndGlyphs">0.2</text>
<line x1="36.92" y1="258.44" x2="39.55" y2="258.44" stroke="#262626" stroke-width="0.75"/>
<text x="34.59" y="261.68" font-size="9.51" text-anchor="end" fill="#1a1a1a" stroke="#1a1a1a" stroke-width="0.16" textLength="14.15" lengthAdjust="spacingAndGlyphs">0.3</text>
<line x1="36.92" y1="232.02" x2="39.55" y2="232.02" stroke="#262626" stroke-width="0.75"/>
<text x="34.59" y="235.26" font-size="9.51" text-anchor="end" fill="#1a1a1a" stroke="#1a1a1a" stroke-width="0.16" textLength="14.15" lengthAdjust="spacingAndGlyphs">0.4</text>
<line x1="36.92" y1="205.60" x2="39.55" y2="205.60" stroke="#262626" stroke-width="0.75"/>
<text x="34.59" y="208.84" font-size="9.51" text-anchor="end" fill="#1a1a1a" stroke="#1a1a1a" stroke-width="0.16" textLength="14.15" lengthAdjust="spacingAndGlyphs">0.5</text>
<rect x="103.40" y="202.40" width="73.90" height="24.70" rx="1.6" fill="#fff" fill-opacity="0.8" stroke="#d9d9d9" stroke-width="0.75"/>
<rect x="106.60" y="206.20" width="15.4" height="5.6" fill="#c6c67e" fill-opacity="1" stroke="#a8a860" stroke-width="0.5"/>
<text x="128.10" y="211.81" font-size="8.22" text-anchor="start" fill="#1a1a1a" stroke="#1a1a1a" stroke-width="0.10" textLength="46.96" lengthAdjust="spacingAndGlyphs">disdrometer</text>
<rect x="106.60" y="217.80" width="15.4" height="5.6" fill="#fff0a0" fill-opacity="1" stroke="#f0e080" stroke-width="0.5"/>
<text x="128.10" y="223.41" font-size="8.22" text-anchor="start" fill="#1a1a1a" stroke="#1a1a1a" stroke-width="0.10" textLength="15.92" lengthAdjust="spacingAndGlyphs">DPR</text>
<g fill="#b080c8" stroke="#8f66ac" stroke-opacity="1" stroke-width="0.6"><rect x="230.76" y="337.44" width="5.68" height="0.26"/><rect x="236.45" y="336.91" width="5.68" height="0.79"/><rect x="242.13" y="336.91" width="5.68" height="0.79"/><rect x="247.81" y="336.91" width="5.68" height="0.79"/><rect x="253.49" y="336.91" width="5.68" height="0.79"/><rect x="259.17" y="336.64" width="5.68" height="1.06"/><rect x="264.86" y="336.64" width="5.68" height="1.06"/><rect x="270.54" y="336.11" width="5.68" height="1.59"/><rect x="276.22" y="335.32" width="5.68" height="2.38"/><rect x="281.90" y="332.94" width="5.68" height="4.76"/><rect x="287.58" y="328.72" width="5.68" height="8.98"/><rect x="293.27" y="323.96" width="5.68" height="13.74"/><rect x="298.95" y="318.68" width="5.68" height="19.02"/><rect x="304.63" y="308.11" width="5.68" height="29.59"/><rect x="310.31" y="301.77" width="5.68" height="35.93"/><rect x="315.99" y="298.07" width="5.68" height="39.63"/><rect x="321.68" y="299.39" width="5.68" height="38.31"/><rect x="327.36" y="306.00" width="5.68" height="31.70"/><rect x="333.04" y="316.30" width="5.68" height="21.40"/><rect x="338.72" y="325.55" width="5.68" height="12.15"/><rect x="344.40" y="333.10" width="5.68" height="4.60"/><rect x="350.09" y="335.32" width="5.68" height="2.38"/><rect x="355.77" y="336.91" width="5.68" height="0.79"/></g>
<path d="M236.45,337.57 C240.23,337.50 253.49,337.37 259.17,337.17 C264.86,336.97 267.03,336.86 270.54,336.38 C274.04,335.89 277.69,335.01 280.20,334.27 C282.71,333.52 283.75,332.90 285.60,331.89 C287.44,330.87 289.43,329.64 291.28,328.19 C293.12,326.74 294.88,324.97 296.68,323.17 C298.47,321.36 300.27,319.25 302.07,317.36 C303.87,315.46 305.67,313.61 307.47,311.81 C309.27,310.00 311.07,308.07 312.87,306.52 C314.67,304.98 316.89,303.31 318.27,302.56 C319.64,301.81 319.88,301.81 321.11,302.03 C322.34,302.25 323.85,302.34 325.65,303.88 C327.45,305.42 330.29,309.25 331.90,311.28 C333.51,313.31 333.94,314.19 335.31,316.04 C336.69,317.88 338.49,320.22 340.14,322.38 C341.80,324.53 343.60,327.22 345.26,328.98 C346.91,330.74 348.57,331.93 350.09,332.94 C351.60,333.96 352.55,334.40 354.35,335.06 C356.15,335.72 359.70,336.60 360.88,336.91 C362.07,337.22 361.36,336.91 361.45,336.91" fill="none" stroke="#5a0a9a" stroke-width="1.25" stroke-linejoin="round"/>
<g fill="#dc80e5" fill-opacity="0.55"><rect x="293.27" y="335.06" width="5.68" height="2.64"/><rect x="298.95" y="324.49" width="5.68" height="13.21"/><rect x="304.63" y="308.11" width="5.68" height="29.59"/><rect x="310.31" y="301.77" width="5.68" height="35.93"/><rect x="315.99" y="298.07" width="5.68" height="39.63"/><rect x="321.68" y="316.56" width="5.68" height="21.14"/><rect x="327.36" y="329.77" width="5.68" height="7.93"/><rect x="333.04" y="333.74" width="5.68" height="3.96"/><rect x="338.72" y="336.38" width="5.68" height="1.32"/><rect x="344.40" y="337.17" width="5.68" height="0.53"/></g>
<g fill="#fab4fa" fill-opacity="0.55"><rect x="304.63" y="300.45" width="5.68" height="7.66"/><rect x="310.31" y="215.11" width="5.68" height="86.66"/><rect x="315.99" y="289.35" width="5.68" height="8.72"/></g>
<g fill="none" stroke="#a060b0" stroke-opacity="0.25" stroke-width="0.6"><rect x="293.27" y="335.06" width="5.68" height="2.64"/><rect x="298.95" y="324.49" width="5.68" height="13.21"/><rect x="304.63" y="300.45" width="5.68" height="37.25"/><rect x="310.31" y="215.11" width="5.68" height="122.59"/><rect x="315.99" y="289.35" width="5.68" height="48.35"/><rect x="321.68" y="316.56" width="5.68" height="21.14"/><rect x="327.36" y="329.77" width="5.68" height="7.93"/><rect x="333.04" y="333.74" width="5.68" height="3.96"/><rect x="338.72" y="336.38" width="5.68" height="1.32"/><rect x="344.40" y="337.17" width="5.68" height="0.53"/></g>
<path d="M236.45,337.57 C240.23,337.50 253.49,337.37 259.17,337.17 C264.86,336.97 267.03,336.86 270.54,336.38 C274.04,335.89 277.69,335.01 280.20,334.27 C282.71,333.52 283.75,332.90 285.60,331.89 C287.44,330.87 289.43,329.64 291.28,328.19 C293.12,326.74 294.88,324.97 296.68,323.17 C298.47,321.36 300.27,319.25 302.07,317.36 C303.87,315.46 305.67,313.61 307.47,311.81 C309.27,310.00 311.07,308.07 312.87,306.52 C314.67,304.98 316.89,303.31 318.27,302.56 C319.64,301.81 319.88,301.81 321.11,302.03 C322.34,302.25 323.85,302.34 325.65,303.88 C327.45,305.42 330.29,309.25 331.90,311.28 C333.51,313.31 333.94,314.19 335.31,316.04 C336.69,317.88 338.49,320.22 340.14,322.38 C341.80,324.53 343.60,327.22 345.26,328.98 C346.91,330.74 348.57,331.93 350.09,332.94 C351.60,333.96 352.55,334.40 354.35,335.06 C356.15,335.72 359.70,336.60 360.88,336.91 C362.07,337.22 361.36,336.91 361.45,336.91" fill="none" stroke="#5a0a9a" stroke-opacity="1" stroke-width="1.25"/>
<path d="M259.17,337.44 C261.07,337.39 266.75,337.35 270.54,337.17 C274.33,337.00 278.35,336.82 281.90,336.38 C285.45,335.94 289.43,335.50 291.85,334.53 C294.26,333.56 294.69,333.16 296.39,330.57 C298.10,327.97 300.70,322.82 302.07,318.94 C303.45,315.07 303.73,312.78 304.63,307.32 C305.53,301.86 306.55,293.23 307.47,286.18 C308.39,279.14 309.18,270.90 310.17,265.04 C311.16,259.19 312.18,250.73 313.44,251.04 C314.69,251.35 316.61,261.21 317.70,266.89 C318.79,272.57 319.12,279.05 319.97,285.12 C320.82,291.20 321.82,297.37 322.81,303.35 C323.81,309.34 324.47,316.21 325.94,321.06 C327.41,325.90 329.06,329.82 331.62,332.42 C334.18,335.01 337.25,335.76 341.28,336.64 C345.30,337.52 353.35,337.52 355.77,337.70" fill="none" stroke="#ff70ff" stroke-width="1.25" stroke-linejoin="round"/>
<line x1="313.41" y1="337.70" x2="313.41" y2="205.60" stroke="#ff70ee" stroke-width="1.2" stroke-dasharray="4.8 1.68"/>
<line x1="318.49" y1="337.70" x2="318.49" y2="205.60" stroke="#5a0a9a" stroke-width="1.2" stroke-dasharray="4.8 1.68"/>
<rect x="219.40" y="199.30" width="142.05" height="138.40" fill="none" stroke="#3c3c3c" stroke-width="0.85"/>
<line x1="219.40" y1="337.70" x2="219.40" y2="340.33" stroke="#262626" stroke-width="0.75"/>
<text x="219.40" y="350.15" font-size="9.51" text-anchor="middle" fill="#1a1a1a" stroke="#1a1a1a" stroke-width="0.16" textLength="5.66" lengthAdjust="spacingAndGlyphs">0</text>
<line x1="247.81" y1="337.70" x2="247.81" y2="340.33" stroke="#262626" stroke-width="0.75"/>
<text x="247.81" y="350.15" font-size="9.51" text-anchor="middle" fill="#1a1a1a" stroke="#1a1a1a" stroke-width="0.16" textLength="11.32" lengthAdjust="spacingAndGlyphs">10</text>
<line x1="276.22" y1="337.70" x2="276.22" y2="340.33" stroke="#262626" stroke-width="0.75"/>
<text x="276.22" y="350.15" font-size="9.51" text-anchor="middle" fill="#1a1a1a" stroke="#1a1a1a" stroke-width="0.16" textLength="11.32" lengthAdjust="spacingAndGlyphs">20</text>
<line x1="304.63" y1="337.70" x2="304.63" y2="340.33" stroke="#262626" stroke-width="0.75"/>
<text x="304.63" y="350.15" font-size="9.51" text-anchor="middle" fill="#1a1a1a" stroke="#1a1a1a" stroke-width="0.16" textLength="11.32" lengthAdjust="spacingAndGlyphs">30</text>
<line x1="333.04" y1="337.70" x2="333.04" y2="340.33" stroke="#262626" stroke-width="0.75"/>
<text x="333.04" y="350.15" font-size="9.51" text-anchor="middle" fill="#1a1a1a" stroke="#1a1a1a" stroke-width="0.16" textLength="11.32" lengthAdjust="spacingAndGlyphs">40</text>
<line x1="361.45" y1="337.70" x2="361.45" y2="340.33" stroke="#262626" stroke-width="0.75"/>
<text x="361.45" y="350.15" font-size="9.51" text-anchor="middle" fill="#1a1a1a" stroke="#1a1a1a" stroke-width="0.16" textLength="11.32" lengthAdjust="spacingAndGlyphs">50</text>
<line x1="216.77" y1="337.70" x2="219.40" y2="337.70" stroke="#262626" stroke-width="0.75"/>
<text x="214.44" y="340.94" font-size="9.51" text-anchor="end" fill="#1a1a1a" stroke="#1a1a1a" stroke-width="0.16" textLength="14.15" lengthAdjust="spacingAndGlyphs">0.0</text>
<line x1="216.77" y1="311.28" x2="219.40" y2="311.28" stroke="#262626" stroke-width="0.75"/>
<text x="214.44" y="314.52" font-size="9.51" text-anchor="end" fill="#1a1a1a" stroke="#1a1a1a" stroke-width="0.16" textLength="14.15" lengthAdjust="spacingAndGlyphs">0.1</text>
<line x1="216.77" y1="284.86" x2="219.40" y2="284.86" stroke="#262626" stroke-width="0.75"/>
<text x="214.44" y="288.10" font-size="9.51" text-anchor="end" fill="#1a1a1a" stroke="#1a1a1a" stroke-width="0.16" textLength="14.15" lengthAdjust="spacingAndGlyphs">0.2</text>
<line x1="216.77" y1="258.44" x2="219.40" y2="258.44" stroke="#262626" stroke-width="0.75"/>
<text x="214.44" y="261.68" font-size="9.51" text-anchor="end" fill="#1a1a1a" stroke="#1a1a1a" stroke-width="0.16" textLength="14.15" lengthAdjust="spacingAndGlyphs">0.3</text>
<line x1="216.77" y1="232.02" x2="219.40" y2="232.02" stroke="#262626" stroke-width="0.75"/>
<text x="214.44" y="235.26" font-size="9.51" text-anchor="end" fill="#1a1a1a" stroke="#1a1a1a" stroke-width="0.16" textLength="14.15" lengthAdjust="spacingAndGlyphs">0.4</text>
<line x1="216.77" y1="205.60" x2="219.40" y2="205.60" stroke="#262626" stroke-width="0.75"/>
<text x="214.44" y="208.84" font-size="9.51" text-anchor="end" fill="#1a1a1a" stroke="#1a1a1a" stroke-width="0.16" textLength="14.15" lengthAdjust="spacingAndGlyphs">0.5</text>
<rect x="222.70" y="202.40" width="75.00" height="24.70" rx="1.6" fill="#fff" fill-opacity="0.8" stroke="#d9d9d9" stroke-width="0.75"/>
<rect x="225.90" y="206.20" width="15.4" height="5.6" fill="#b080c8" fill-opacity="1" stroke="#9060b0" stroke-width="0.5"/>
<text x="247.40" y="211.81" font-size="8.22" text-anchor="start" fill="#1a1a1a" stroke="#1a1a1a" stroke-width="0.10" textLength="46.96" lengthAdjust="spacingAndGlyphs">disdrometer</text>
<rect x="225.90" y="217.80" width="15.4" height="5.6" fill="#fcd0fc" fill-opacity="1" stroke="#f0b0f0" stroke-width="0.5"/>
<text x="247.40" y="223.41" font-size="8.22" text-anchor="start" fill="#1a1a1a" stroke="#1a1a1a" stroke-width="0.10" textLength="15.92" lengthAdjust="spacingAndGlyphs">DPR</text>
<g fill="#fcc0c0" stroke="#e0a4ac" stroke-opacity="1" stroke-width="0.6"><rect x="399.05" y="268.90" width="4.79" height="68.80"/><rect x="403.84" y="235.56" width="4.79" height="102.14"/><rect x="408.63" y="241.09" width="4.79" height="96.61"/><rect x="413.42" y="257.96" width="4.79" height="79.74"/><rect x="418.21" y="275.75" width="4.79" height="61.95"/><rect x="422.99" y="288.27" width="4.79" height="49.43"/><rect x="427.78" y="298.16" width="4.79" height="39.54"/><rect x="432.57" y="305.80" width="4.79" height="31.90"/><rect x="437.36" y="313.32" width="4.79" height="24.38"/><rect x="442.15" y="317.27" width="4.79" height="20.43"/><rect x="446.94" y="321.42" width="4.79" height="16.28"/><rect x="451.73" y="324.92" width="4.79" height="12.78"/><rect x="456.52" y="327.49" width="4.79" height="10.21"/><rect x="461.31" y="329.79" width="4.79" height="7.91"/><rect x="466.09" y="330.78" width="4.79" height="6.92"/><rect x="470.88" y="331.90" width="4.79" height="5.80"/><rect x="475.67" y="332.69" width="4.79" height="5.01"/><rect x="480.46" y="333.75" width="4.79" height="3.95"/><rect x="485.25" y="334.60" width="4.79" height="3.10"/><rect x="490.04" y="334.93" width="4.79" height="2.77"/><rect x="494.83" y="335.20" width="4.79" height="2.50"/><rect x="499.62" y="335.46" width="4.79" height="2.24"/><rect x="504.41" y="335.72" width="4.79" height="1.98"/><rect x="509.19" y="335.92" width="4.79" height="1.78"/><rect x="513.98" y="336.12" width="4.79" height="1.58"/><rect x="518.77" y="336.32" width="4.79" height="1.38"/><rect x="523.56" y="336.45" width="4.79" height="1.25"/><rect x="528.35" y="336.58" width="4.79" height="1.12"/><rect x="533.14" y="336.71" width="4.79" height="0.99"/></g>
<path d="M399.05,294.47 C399.96,293.00 402.72,287.82 404.50,285.64 C406.27,283.45 407.65,282.34 409.70,281.36 C411.76,280.37 414.83,279.65 416.81,279.71 C418.78,279.76 420.00,280.48 421.54,281.69 C423.08,282.89 424.42,284.65 426.04,286.96 C427.66,289.26 429.59,292.67 431.25,295.52 C432.91,298.38 434.48,301.76 435.98,304.09 C437.48,306.42 438.51,307.46 440.24,309.49 C441.98,311.53 444.11,314.13 446.40,316.28 C448.69,318.44 451.61,320.69 453.98,322.41 C456.34,324.14 458.36,325.46 460.61,326.63 C462.85,327.79 465.30,328.56 467.47,329.40 C469.64,330.23 471.34,330.95 473.63,331.64 C475.91,332.33 478.64,333.02 481.20,333.55 C483.77,334.08 485.86,334.42 489.01,334.80 C492.17,335.18 495.41,335.50 500.14,335.85 C504.88,336.21 510.80,336.63 517.43,336.91 C524.05,337.18 536.17,337.40 539.92,337.50" fill="none" stroke="#f47c7c" stroke-width="1.15" stroke-linejoin="round"/>
<line x1="405.80" y1="337.70" x2="405.80" y2="205.90" stroke="#b0101a" stroke-width="1.35" stroke-dasharray="4.8 1.68"/>
<line x1="416.14" y1="337.70" x2="416.14" y2="205.90" stroke="#ff8080" stroke-width="1.2" stroke-dasharray="4.8 1.68"/>
<rect x="399.05" y="199.30" width="142.05" height="138.40" fill="none" stroke="#3c3c3c" stroke-width="0.85"/>
<line x1="399.05" y1="337.70" x2="399.05" y2="340.33" stroke="#262626" stroke-width="0.75"/>
<text x="399.05" y="350.15" font-size="9.51" text-anchor="middle" fill="#1a1a1a" stroke="#1a1a1a" stroke-width="0.16" textLength="5.66" lengthAdjust="spacingAndGlyphs">0</text>
<line x1="422.73" y1="337.70" x2="422.73" y2="340.33" stroke="#262626" stroke-width="0.75"/>
<text x="422.73" y="350.15" font-size="9.51" text-anchor="middle" fill="#1a1a1a" stroke="#1a1a1a" stroke-width="0.16" textLength="11.32" lengthAdjust="spacingAndGlyphs">10</text>
<line x1="446.40" y1="337.70" x2="446.40" y2="340.33" stroke="#262626" stroke-width="0.75"/>
<text x="446.40" y="350.15" font-size="9.51" text-anchor="middle" fill="#1a1a1a" stroke="#1a1a1a" stroke-width="0.16" textLength="11.32" lengthAdjust="spacingAndGlyphs">20</text>
<line x1="470.08" y1="337.70" x2="470.08" y2="340.33" stroke="#262626" stroke-width="0.75"/>
<text x="470.08" y="350.15" font-size="9.51" text-anchor="middle" fill="#1a1a1a" stroke="#1a1a1a" stroke-width="0.16" textLength="11.32" lengthAdjust="spacingAndGlyphs">30</text>
<line x1="493.75" y1="337.70" x2="493.75" y2="340.33" stroke="#262626" stroke-width="0.75"/>
<text x="493.75" y="350.15" font-size="9.51" text-anchor="middle" fill="#1a1a1a" stroke="#1a1a1a" stroke-width="0.16" textLength="11.32" lengthAdjust="spacingAndGlyphs">40</text>
<line x1="517.43" y1="337.70" x2="517.43" y2="340.33" stroke="#262626" stroke-width="0.75"/>
<text x="517.43" y="350.15" font-size="9.51" text-anchor="middle" fill="#1a1a1a" stroke="#1a1a1a" stroke-width="0.16" textLength="11.32" lengthAdjust="spacingAndGlyphs">50</text>
<line x1="541.10" y1="337.70" x2="541.10" y2="340.33" stroke="#262626" stroke-width="0.75"/>
<text x="541.10" y="350.15" font-size="9.51" text-anchor="middle" fill="#1a1a1a" stroke="#1a1a1a" stroke-width="0.16" textLength="11.32" lengthAdjust="spacingAndGlyphs">60</text>
<line x1="396.42" y1="337.70" x2="399.05" y2="337.70" stroke="#262626" stroke-width="0.75"/>
<text x="394.09" y="340.94" font-size="9.51" text-anchor="end" fill="#1a1a1a" stroke="#1a1a1a" stroke-width="0.16" textLength="19.82" lengthAdjust="spacingAndGlyphs">0.00</text>
<line x1="396.42" y1="311.34" x2="399.05" y2="311.34" stroke="#262626" stroke-width="0.75"/>
<text x="394.09" y="314.58" font-size="9.51" text-anchor="end" fill="#1a1a1a" stroke="#1a1a1a" stroke-width="0.16" textLength="19.82" lengthAdjust="spacingAndGlyphs">0.04</text>
<line x1="396.42" y1="284.98" x2="399.05" y2="284.98" stroke="#262626" stroke-width="0.75"/>
<text x="394.09" y="288.22" font-size="9.51" text-anchor="end" fill="#1a1a1a" stroke="#1a1a1a" stroke-width="0.16" textLength="19.82" lengthAdjust="spacingAndGlyphs">0.08</text>
<line x1="396.42" y1="258.62" x2="399.05" y2="258.62" stroke="#262626" stroke-width="0.75"/>
<text x="394.09" y="261.86" font-size="9.51" text-anchor="end" fill="#1a1a1a" stroke="#1a1a1a" stroke-width="0.16" textLength="19.82" lengthAdjust="spacingAndGlyphs">0.12</text>
<line x1="396.42" y1="232.26" x2="399.05" y2="232.26" stroke="#262626" stroke-width="0.75"/>
<text x="394.09" y="235.50" font-size="9.51" text-anchor="end" fill="#1a1a1a" stroke="#1a1a1a" stroke-width="0.16" textLength="19.82" lengthAdjust="spacingAndGlyphs">0.16</text>
<line x1="396.42" y1="205.90" x2="399.05" y2="205.90" stroke="#262626" stroke-width="0.75"/>
<text x="394.09" y="209.14" font-size="9.51" text-anchor="end" fill="#1a1a1a" stroke="#1a1a1a" stroke-width="0.16" textLength="19.82" lengthAdjust="spacingAndGlyphs">0.20</text>
<rect x="462.40" y="202.50" width="74.30" height="25.60" rx="1.6" fill="#fff" fill-opacity="0.8" stroke="#d9d9d9" stroke-width="0.75"/>
<line x1="465.30" y1="209.40" x2="480.70" y2="209.40" stroke="#b0101a" stroke-width="1.35" stroke-dasharray="4.8 1.68"/>
<text x="487.10" y="212.21" font-size="8.22" text-anchor="start" fill="#1a1a1a" stroke="#1a1a1a" stroke-width="0.10" textLength="45.52" lengthAdjust="spacingAndGlyphs">DPR (μ = 3)</text>
<rect x="465.60" y="218.00" width="15.4" height="5.6" fill="#fcc0c0" fill-opacity="1" stroke="#f0a0a0" stroke-width="0.5"/>
<text x="487.10" y="223.61" font-size="8.22" text-anchor="start" fill="#1a1a1a" stroke="#1a1a1a" stroke-width="0.10" textLength="46.96" lengthAdjust="spacingAndGlyphs">disdrometer</text>
<text x="33.71" y="13.10" font-size="10.89" text-anchor="start" fill="#1a1a1a" stroke="#1a1a1a" stroke-width="0.16" textLength="153.73" lengthAdjust="spacingAndGlyphs">(a) Reflectivity factor Ku-band</text>
<text x="213.56" y="13.10" font-size="10.89" text-anchor="start" fill="#1a1a1a" stroke="#1a1a1a" stroke-width="0.16" textLength="153.74" lengthAdjust="spacingAndGlyphs">(b) Reflectivity factor Ka-band</text>
<text x="405.86" y="13.10" font-size="10.89" text-anchor="start" fill="#1a1a1a" stroke="#1a1a1a" stroke-width="0.16" textLength="128.43" lengthAdjust="spacingAndGlyphs">(c) Precipitation intensity</text>
<text x="94.33" y="194.70" font-size="10.89" text-anchor="start" fill="#1a1a1a" stroke="#1a1a1a" stroke-width="0.16" textLength="25.53" lengthAdjust="spacingAndGlyphs">(d) D</text>
<text x="119.86" y="197.30" font-size="7.63" text-anchor="start" fill="#1a1a1a" stroke="#1a1a1a" stroke-width="0.16" textLength="6.96" lengthAdjust="spacingAndGlyphs" font-style="italic">m</text>
<text x="274.95" y="194.70" font-size="10.89" text-anchor="start" fill="#1a1a1a" stroke="#1a1a1a" stroke-width="0.16" textLength="25.11" lengthAdjust="spacingAndGlyphs">(e) N</text>
<text x="300.06" y="197.30" font-size="7.63" text-anchor="start" fill="#1a1a1a" stroke="#1a1a1a" stroke-width="0.16" textLength="5.84" lengthAdjust="spacingAndGlyphs" font-style="italic">w</text>
<text x="459.43" y="194.70" font-size="10.89" text-anchor="start" fill="#1a1a1a" stroke="#1a1a1a" stroke-width="0.16" textLength="21.28" lengthAdjust="spacingAndGlyphs">(f) μ</text>
<text x="101.45" y="178.40" font-size="9.72" text-anchor="start" fill="#1a1a1a" stroke="#1a1a1a" stroke-width="0.16" textLength="18.25" lengthAdjust="spacingAndGlyphs">dBZ</text>
<text x="281.30" y="178.40" font-size="9.72" text-anchor="start" fill="#1a1a1a" stroke="#1a1a1a" stroke-width="0.16" textLength="18.25" lengthAdjust="spacingAndGlyphs">dBZ</text>
<text x="444.86" y="178.40" font-size="9.72" text-anchor="start" fill="#1a1a1a" stroke="#1a1a1a" stroke-width="0.16" textLength="50.43" lengthAdjust="spacingAndGlyphs">log (mm/h)</text>
<text x="101.71" y="360.60" font-size="9.72" text-anchor="start" fill="#1a1a1a" stroke="#1a1a1a" stroke-width="0.16" textLength="17.73" lengthAdjust="spacingAndGlyphs">mm</text>
<text x="278.41" y="360.90" font-size="9.72" text-anchor="start" fill="#1a1a1a" stroke="#1a1a1a" stroke-width="0.16" textLength="18.83" lengthAdjust="spacingAndGlyphs">dBN</text>
<text x="297.23" y="363.20" font-size="6.80" text-anchor="start" fill="#1a1a1a" stroke="#1a1a1a" stroke-width="0.16" textLength="5.21" lengthAdjust="spacingAndGlyphs">w</text>
<text transform="translate(12.00 86.22) rotate(-90)" font-size="9.72" text-anchor="middle" fill="#1a1a1a" stroke="#1a1a1a" stroke-width="0.16" textLength="48.46" lengthAdjust="spacingAndGlyphs">Probability</text>
<text transform="translate(17.50 268.50) rotate(-90)" font-size="9.72" text-anchor="middle" fill="#1a1a1a" stroke="#1a1a1a" stroke-width="0.16" textLength="48.46" lengthAdjust="spacingAndGlyphs">Probability</text>
</g>
</svg></body></html>
